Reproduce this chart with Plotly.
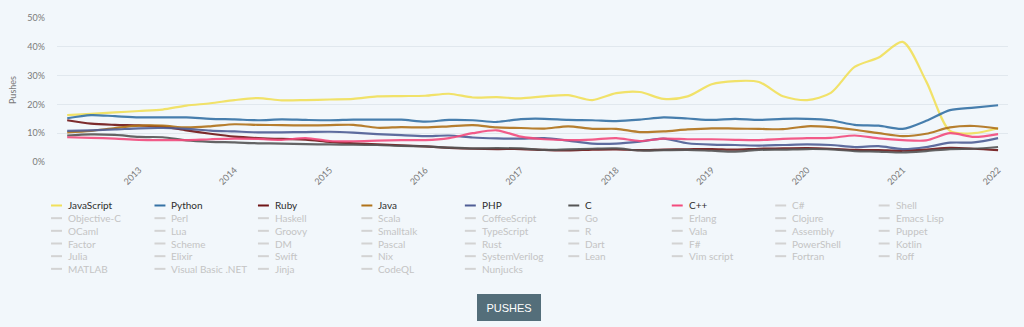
import plotly.graph_objects as go
import pandas as pd

# ---------------- data ----------------
quarters = pd.date_range("2012-04-01", periods=40, freq="QS")

javascript = [16.3, 16.7, 17.2, 17.7, 18.2, 19.6, 20.4, 21.5, 22.2, 21.4,
              21.5, 21.7, 21.9, 22.8, 22.9, 23.0, 23.7, 22.4, 22.5, 22.1,
              22.8, 23.2, 21.5, 23.9, 24.3, 21.9, 22.8, 27.0, 28.1, 27.8,
              22.8, 21.5, 24.0, 33.0, 36.3, 41.7, 28.0, 10.8, 10.0, 11.7]
python = [15.2, 16.3, 15.9, 15.5, 15.5, 15.5, 15.0, 14.8, 14.5, 14.8,
          14.6, 14.5, 14.7, 14.7, 14.7, 14.0, 14.6, 14.5, 13.9, 14.9,
          15.0, 14.6, 14.5, 14.2, 14.7, 15.5, 15.1, 14.6, 15.0, 14.6,
          15.0, 15.0, 14.5, 12.9, 12.6, 11.5, 14.3, 18.0, 18.9, 19.7]
ruby = [14.5, 13.3, 12.9, 12.7, 12.3, 11.0, 9.8, 8.8, 8.3, 8.0,
        7.8, 7.0, 6.5, 6.1, 5.8, 5.4, 4.9, 4.6, 4.5, 4.5,
        4.2, 4.0, 4.3, 4.4, 4.1, 4.3, 4.4, 4.5, 4.3, 4.6,
        4.7, 4.8, 4.6, 4.2, 4.1, 3.9, 4.3, 4.9, 4.6, 4.1]
java = [10.3, 10.8, 11.8, 12.6, 12.6, 12.0, 12.4, 13.1, 12.9, 12.8,
        12.7, 12.8, 12.9, 11.9, 12.1, 12.0, 12.4, 12.8, 12.0, 11.8,
        11.6, 12.4, 11.5, 11.5, 10.4, 10.6, 11.3, 11.7, 11.6, 11.5,
        11.4, 12.4, 12.1, 11.2, 10.0, 9.0, 9.8, 12.0, 12.5, 11.6]
php = [10.8, 11.0, 11.3, 11.7, 11.8, 11.5, 10.9, 10.6, 10.3, 10.3,
       10.4, 10.5, 10.2, 9.7, 9.3, 9.0, 9.2, 8.5, 8.2, 8.1,
       8.3, 7.4, 6.4, 6.4, 7.1, 8.1, 6.5, 6.0, 5.9, 5.7,
       5.9, 6.1, 5.9, 5.2, 5.5, 4.5, 5.2, 6.7, 6.8, 8.3]
c_lang = [9.2, 9.6, 9.4, 8.7, 8.6, 7.5, 7.0, 6.8, 6.5, 6.4,
          6.2, 6.1, 6.0, 5.9, 5.6, 5.4, 5.0, 4.7, 4.8, 4.7,
          4.2, 4.4, 4.6, 4.7, 4.0, 4.1, 4.2, 3.9, 3.6, 4.2,
          4.3, 4.5, 4.4, 3.8, 3.6, 3.3, 3.8, 4.5, 4.6, 5.2]
cpp = [8.6, 8.4, 8.1, 7.7, 7.6, 7.6, 7.9, 8.1, 8.0, 7.7,
       8.3, 7.3, 7.2, 7.4, 7.6, 7.6, 8.3, 10.0, 11.0, 8.8,
       7.9, 7.6, 7.8, 8.3, 7.3, 8.1, 7.9, 7.9, 7.7, 7.6,
       8.0, 8.3, 8.4, 9.2, 8.2, 7.6, 7.5, 10.0, 8.7, 9.7]

active_names = ["JavaScript", "Python", "Ruby", "Java", "PHP", "C", "C++"]
active_values = [javascript, python, ruby, java, php, c_lang, cpp]
active_colors = ["#f1e05a", "#3572A5", "#701516", "#b07219", "#4F5D95", "#555555", "#f34b7d"]

legend_names = [
    "JavaScript", "Python", "Ruby", "Java", "PHP", "C", "C++", "C#", "Shell",
    "Objective-C", "Perl", "Haskell", "Scala", "CoffeeScript", "Go", "Erlang", "Clojure", "Emacs Lisp",
    "OCaml", "Lua", "Groovy", "Smalltalk", "TypeScript", "R", "Vala", "Assembly", "Puppet",
    "Factor", "Scheme", "DM", "Pascal", "Rust", "Dart", "F#", "PowerShell", "Kotlin",
    "Julia", "Elixir", "Swift", "Nix", "SystemVerilog", "Lean", "Vim script", "Fortran", "Roff",
    "MATLAB", "Visual Basic .NET", "Jinja", "CodeQL", "Nunjucks",
]

y_ticks = [0, 10, 20, 30, 40, 50]
x_tick_years = [str(y) for y in range(2013, 2023)]

# ---------------- figure ----------------
W, H = 1024, 327
L, R, T, B = 52, 16, 12, 165
PW, PH = W - L - R, H - T - B


def px_x(p):
    return (p - L) / PW


def px_y(p):
    return (H - B - p) / PH


fig = go.Figure()
for name, vals, col in zip(active_names, active_values, active_colors):
    fig.add_trace(go.Scatter(
        x=quarters, y=vals, name=name, mode="lines",
        line=dict(color=col, width=2.2, shape="spline", smoothing=0.8),
        opacity=0.9, showlegend=False, hoverinfo="skip",
    ))

# custom legend
shapes = []
annotations = []
col_w, row_h = 104, 13.2
x0, y0 = 46, 207.3
for i, name in enumerate(legend_names):
    r, c = divmod(i, 9)
    lx = x0 + c * col_w
    ly = y0 + r * row_h
    if name in active_names:
        lc = active_colors[active_names.index(name)]
        tc = "#2e2e2e"
    else:
        lc = "#d3d3d3"
        tc = "#c4c4c4"
    shapes.append(dict(type="line", xref="paper", yref="paper",
                       x0=px_x(lx), x1=px_x(lx + 11), y0=px_y(ly), y1=px_y(ly),
                       line=dict(color=lc, width=2)))
    annotations.append(dict(xref="paper", yref="paper", x=px_x(lx + 15), y=px_y(ly),
                            text=name, showarrow=False, xanchor="left", yanchor="middle",
                            font=dict(family="Lato", size=10, color=tc)))

# PUSHES button
annotations.append(dict(xref="paper", yref="paper", x=px_x(506), y=px_y(313.5),
                        text="PUSHES", showarrow=False, xanchor="center", yanchor="middle",
                        width=56, height=19, bgcolor="#546e7a", borderpad=4,
                        bordercolor="#546e7a", borderwidth=0,
                        font=dict(family="Liberation Sans", size=11, color="#ffffff")))

fig.update_layout(
    width=W, height=H,
    margin=dict(l=L, r=R, t=T, b=B),
    paper_bgcolor="#f2f7fb",
    plot_bgcolor="#f2f7fb",
    shapes=shapes,
    annotations=annotations,
    showlegend=False,
    font=dict(family="Lato", color="#777777"),
    xaxis=dict(
        type="date",
        range=["2012-02-22", "2022-02-08"],
        tickvals=[y + "-01-01" for y in x_tick_years],
        ticktext=x_tick_years,
        tickangle=-45,
        tickfont=dict(family="Lato", size=9, color="#7a7a7a"),
        showgrid=False, zeroline=False, showline=False,
        ticks="",
    ),
    yaxis=dict(
        range=[0, 50],
        tickvals=y_ticks,
        ticktext=[f"{v}%" for v in y_ticks],
        tickfont=dict(family="Lato", size=9, color="#7a7a7a"),
        gridcolor="#e1e8ee", gridwidth=1,
        zeroline=False, showline=False, ticks="",
        ticklabelstandoff=11,
        title=dict(text="Pushes", font=dict(family="Lato", size=9, color="#7a7a7a"), standoff=9),
    ),
)

fig.write_html("out.html")
